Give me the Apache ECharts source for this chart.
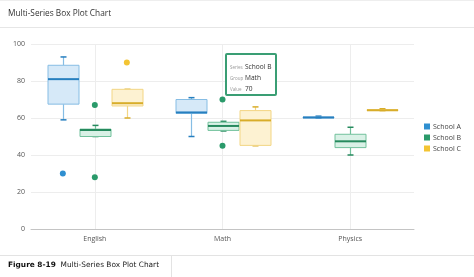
<!DOCTYPE html>
<html>
<head>
<meta charset="utf-8">
<title>Multi-Series Box Plot Chart</title>
<style>
html, body { margin: 0; padding: 0; background: #fff; }
#chart { width: 474px; height: 277px; }
</style>
<script src="https://cdn.jsdelivr.net/npm/echarts@6/dist/echarts.min.js"></script>
</head>
<body>
<div id="chart"></div>
<script>
var subjects = ['English', 'Math', 'Physics'];
var schools = ['School A', 'School B', 'School C'];
var yTicks = [0, 20, 40, 60, 80, 100];

// [min, Q1, median, Q3, max] for English, Math, Physics
var boxA = [[59, 67.5, 81, 88.5, 93], [50, 62.5, 63, 70, 71], [60, 60, 60.3, 60.5, 61]];
var boxB = [[50, 50, 53.5, 54, 56], [53, 53.3, 55.7, 57.7, 58.2], [40, 44, 47.4, 51.2, 55]];
var boxC = [[60, 66.5, 68, 75.5, 75.5], [45, 45.2, 58.7, 64, 66], [64, 64, 64.2, 64.5, 65]];

// outliers
var outA = [['English', 30]];
var outB = [['English', 67], ['English', 28], ['Math', 70], ['Math', 45]];
var outC = [['English', 90]];

var look = {
	A: { line: '#267fbf', edge: '#86bde4', fill: '#d6e9f8', dot: '#2f8fd0', shift: -32 },
	B: { line: '#268a5e', edge: '#72c19c', fill: '#d9f1e6', dot: '#2a9a6a', shift: 0 },
	C: { line: '#d8ad2a', edge: '#f3d684', fill: '#fdf2d2', dot: '#f3c433', shift: 32 }
};

function withIndex(rows) {
	return rows.map(function (r, i) { return [i].concat(r); });
}

function boxItem(st) {
	return function (params, api) {
		var i = api.value(0);
		var lo = api.coord([i, api.value(1)]);
		var q1 = api.coord([i, api.value(2)]);
		var md = api.coord([i, api.value(3)]);
		var q3 = api.coord([i, api.value(4)]);
		var hi = api.coord([i, api.value(5)]);
		var x = Math.round(lo[0] + st.shift) + 0.5, w = 15.5, c = 3;
		return {
			type: 'group',
			children: [
				{ type: 'line', shape: { x1: x, y1: hi[1], x2: x, y2: q3[1] }, style: { stroke: st.edge, lineWidth: 1.2 } },
				{ type: 'line', shape: { x1: x, y1: q1[1], x2: x, y2: lo[1] }, style: { stroke: st.edge, lineWidth: 1.2 } },
				{ type: 'line', shape: { x1: x - c, y1: hi[1], x2: x + c, y2: hi[1] }, style: { stroke: st.line, lineWidth: 1.5 } },
				{ type: 'line', shape: { x1: x - c, y1: lo[1], x2: x + c, y2: lo[1] }, style: { stroke: st.line, lineWidth: 1.5 } },
				{ type: 'rect', shape: { x: x - w, y: q3[1], width: w * 2, height: q1[1] - q3[1] }, style: { fill: st.fill, stroke: st.edge, lineWidth: 1 } },
				{ type: 'line', shape: { x1: x - w, y1: md[1], x2: x + w, y2: md[1] }, style: { stroke: st.line, lineWidth: 2 } }
			]
		};
	};
}

function boxSeries(name, rows, st) {
	return {
		name: name,
		type: 'custom',
		renderItem: boxItem(st),
		itemStyle: { color: st.dot },
		encode: { x: 0, y: [1, 2, 3, 4, 5] },
		data: withIndex(rows),
		silent: true,
		z: 2
	};
}

function outSeries(name, rows, st) {
	return {
		name: name,
		type: 'scatter',
		symbolSize: 6,
		symbolOffset: [st.shift, 0],
		itemStyle: { color: st.dot, opacity: 1 },
		data: rows,
		z: 3
	};
}

var chart = echarts.init(document.getElementById('chart'));

chart.setOption({
	animation: false,
	textStyle: { fontFamily: 'Open Sans' },
	title: {
		text: 'Multi-Series Box Plot Chart',
		left: 3,
		top: 5,
		textStyle: { fontSize: 8.3, fontWeight: 'normal', color: '#333', fontFamily: 'Open Sans' }
	},
	grid: { left: 31, right: 60, top: 44, bottom: 48 },
	legend: {
		orient: 'vertical',
		left: 419,
		top: 118,
		itemWidth: 6,
		itemHeight: 6,
		itemGap: 4,
		icon: 'rect',
		data: schools,
		textStyle: { fontSize: 7, color: '#444', lineHeight: 7, padding: [0, 0, 0, -2] }
	},
	tooltip: {
		trigger: 'item',
		alwaysShowContent: true,
		transitionDuration: 0,
		position: [225, 53],
		backgroundColor: '#fff',
		borderColor: '#3a9e74',
		borderWidth: 2,
		padding: [3, 4, 3, 3],
		extraCssText: 'box-shadow:none;border-radius:2px;',
		formatter: function (p) {
			var row = function (k, v) {
				return '<div style="height:11px;line-height:11px;white-space:nowrap">' +
					'<span style="display:inline-block;width:15px;font-size:4.5px;color:#999">' + k + '</span>' +
					'<span style="font-size:6.6px;color:#333">' + v + '</span></div>';
			};
			return row('Series', p.seriesName) + row('Group', p.value[0]) + row('Value', p.value[1]);
		}
	},
	xAxis: {
		type: 'category',
		data: subjects,
		boundaryGap: true,
		axisLine: { lineStyle: { color: '#c4c4c4', width: 1 } },
		axisTick: { show: false, alignWithLabel: true },
		axisLabel: { fontSize: 7, color: '#555', margin: 6 },
		splitLine: { show: true, alignWithLabel: true, lineStyle: { color: '#ededed', width: 1 } }
	},
	yAxis: {
		type: 'value',
		min: yTicks[0],
		max: yTicks[yTicks.length - 1],
		interval: 20,
		axisLine: { show: false },
		axisTick: { show: false },
		axisLabel: { fontSize: 7, color: '#555', margin: 6 },
		splitLine: { lineStyle: { color: '#ededed', width: 1 } }
	},
	graphic: [
		{ type: 'line', shape: { x1: 0, y1: 0.5, x2: 474, y2: 0.5 }, style: { stroke: '#eeeeee', lineWidth: 1 } },
		{ type: 'line', shape: { x1: 0, y1: 27.5, x2: 474, y2: 27.5 }, style: { stroke: '#e6e6e6', lineWidth: 1 } },
		{ type: 'line', shape: { x1: 0, y1: 255.5, x2: 474, y2: 255.5 }, style: { stroke: '#e3e3e3', lineWidth: 1 } },
		{ type: 'line', shape: { x1: 171.5, y1: 255, x2: 171.5, y2: 277 }, style: { stroke: '#e3e3e3', lineWidth: 1 } },
		{
			type: 'text',
			left: 8,
			top: 262,
			style: {
				text: '{b|Figure 8-19}  Multi-Series Box Plot Chart',
				font: '7.4px "DejaVu Sans"',
				fill: '#222',
				rich: { b: { fontWeight: 'bold', fontSize: 7.4, fontFamily: 'DejaVu Sans', fill: '#111' } }
			}
		}
	],
	series: [
		boxSeries('School A', boxA, look.A),
		boxSeries('School B', boxB, look.B),
		boxSeries('School C', boxC, look.C),
		outSeries('School A', outA, look.A),
		outSeries('School B', outB, look.B),
		outSeries('School C', outC, look.C)
	]
});

chart.dispatchAction({ type: 'showTip', seriesIndex: 4, dataIndex: 2 });
</script>
</body>
</html>
